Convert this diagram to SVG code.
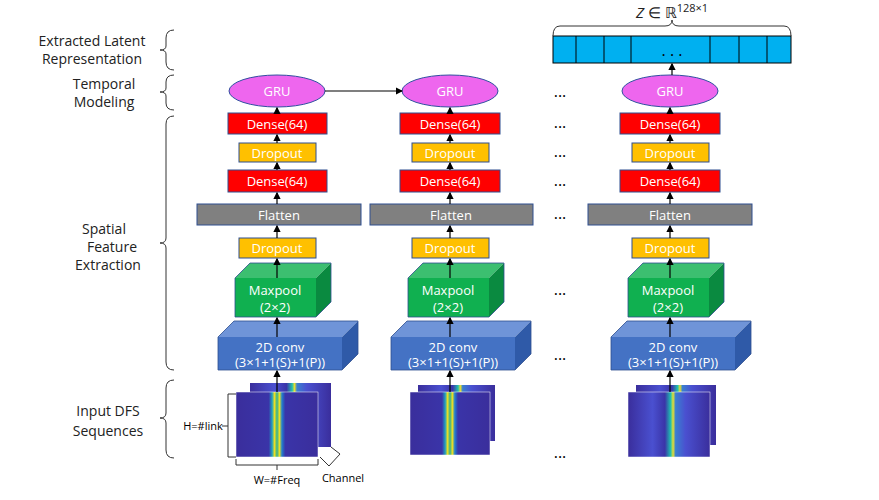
<svg xmlns="http://www.w3.org/2000/svg" width="879" height="500" viewBox="0 0 879 500">
<defs>
<style>
text{font-family:"Open Sans","Liberation Sans",Arial,sans-serif;}
.lbl{font-size:14px;fill:#222;text-anchor:middle}
.w{font-size:13px;fill:#fff;text-anchor:middle}
.dense{fill:#ff0000;stroke:#2f4f8f;stroke-width:1}
.drop{fill:#ffc000;stroke:#2f4f8f;stroke-width:1}
.flat{fill:#808080;stroke:#2f4f8f;stroke-width:1}
.gru{fill:#ee66ee;stroke:#3050a0;stroke-width:1}
.br{fill:none;stroke:#333;stroke-width:1}
.c{stroke:#000;stroke-width:1.2;fill:none;marker-end:url(#ah)}
.dots{font-size:16px;fill:#000;text-anchor:middle}
</style>
<marker id="ah" markerWidth="6" markerHeight="6" refX="5" refY="3" orient="auto"><path d="M0,0 L6,3 L0,6 z" fill="#000"/></marker>
<linearGradient id="hm" x1="0" x2="1" y1="0" y2="0">
<stop offset="0" stop-color="#3a2e9c"/><stop offset="0.4" stop-color="#3a34a8"/><stop offset="0.44" stop-color="#20a0c0"/><stop offset="0.47" stop-color="#f0e020"/><stop offset="0.5" stop-color="#30b090"/><stop offset="0.53" stop-color="#f0e020"/><stop offset="0.56" stop-color="#2080d0"/><stop offset="0.6" stop-color="#3a34a8"/><stop offset="1" stop-color="#3a2e9c"/>
</linearGradient>
<linearGradient id="hm2" x1="0" x2="1" y1="0" y2="0">
<stop offset="0" stop-color="#3a2e9c"/><stop offset="0.3" stop-color="#4a50d0"/><stop offset="0.45" stop-color="#3a34a8"/><stop offset="0.52" stop-color="#20c0b0"/><stop offset="0.55" stop-color="#e8e030"/><stop offset="0.58" stop-color="#3a80d0"/><stop offset="0.7" stop-color="#4a50d0"/><stop offset="1" stop-color="#3a2e9c"/>
</linearGradient>
<g id="stack">
<g id="maxpool"><polygon points="235,278 250,263 331,263 316,278" fill="#3cbf70"/><polygon points="316,278 331,263 331,302 316,317" fill="#0a8a40"/><rect x="235" y="278" width="81" height="39" fill="#10b050"/><polygon points="235,278 250,263 331,263 331,302 316,317 235,317" fill="none" stroke="#2f4f8f" stroke-width="0.8"/><text x="275" y="295" class="w">Maxpool</text><text x="275" y="312" class="w">(2×2)</text></g>
<g id="conv"><polygon points="218,337 234,321 358,321 342,337" fill="#6f94d8"/><polygon points="342,337 358,321 358,354 342,370" fill="#2f5aa8"/><rect x="218" y="337" width="124" height="33" fill="#4472c4"/><polygon points="218,337 234,321 358,321 358,354 342,370 218,370" fill="none" stroke="#2f4f8f" stroke-width="0.8"/><text x="280" y="352" class="w">2D conv</text><text x="280" y="367" class="w">(3×1+1(S)+1(P))</text></g>
</g>
</defs>
<rect width="879" height="500" fill="#fff"/>

<g id="left-labels">
<text x="92" y="46" class="lbl">Extracted Latent</text><text x="92" y="64" class="lbl">Representation</text>
<text x="104" y="89" class="lbl">Temporal</text><text x="104" y="107" class="lbl">Modeling</text>
<text x="104" y="234" class="lbl">Spatial</text><text x="112" y="252" class="lbl">Feature</text><text x="108" y="270" class="lbl">Extraction</text>
<text x="108" y="416" class="lbl">Input DFS</text><text x="108" y="436" class="lbl">Sequences</text>
<path class="br" d="M174,30 Q166,30 166,38 L166,46 Q166,50 160,50 Q166,50 166,54 L166,62 Q166,70 174,70"/>
<path class="br" d="M174,75 Q166,75 166,82 L166,88 Q166,92 160,92 Q166,92 166,96 L166,103 Q166,110 174,110"/>
<path class="br" d="M174,116 Q166,116 166,124 L166,238 Q166,243 160,243 Q166,243 166,248 L166,362 Q166,370 174,370"/>
<path class="br" d="M174,380 Q166,380 166,388 L166,413 Q166,418 160,418 Q166,418 166,423 L166,450 Q166,458 174,458"/>
</g>

<g id="latent">
<rect x="553" y="36" width="238" height="27" fill="#00b0f0" stroke="#000" stroke-width="1"/>
<path d="M576,36V63M604,36V63M631,36V63M710,36V63M739,36V63M767,36V63" stroke="#000" stroke-width="1"/>
<text x="672" y="56" class="dots">. . .</text>
<path class="br" d="M553,36 Q553,26 560,26 L665,26 Q672,26 672,20 Q672,26 679,26 L784,26 Q791,26 791,36"/>
<text x="672" y="18" font-family="DejaVu Serif,serif" font-size="15" text-anchor="middle" fill="#222"><tspan font-style="italic">Z</tspan> ∈ ℝ<tspan font-size="11" dy="-6">128×1</tspan></text>
</g>

<g id="col1">
<ellipse cx="277" cy="91" rx="48" ry="16" class="gru"/><text x="277" y="96" class="w" font-size="14">GRU</text>
<rect x="228" y="113" width="99" height="21" class="dense"/><text x="277" y="129" class="w">Dense(64)</text>
<rect x="239" y="143" width="77" height="19" class="drop"/><text x="277" y="158" class="w">Dropout</text>
<rect x="228" y="170" width="99" height="22" class="dense"/><text x="277" y="186" class="w">Dense(64)</text>
<rect x="197" y="204" width="164" height="21" class="flat"/><text x="279" y="220" class="w">Flatten</text>
<rect x="239" y="238" width="77" height="20" class="drop"/><text x="277" y="253" class="w">Dropout</text>
<use href="#stack"/>
<rect x="250" y="383" width="81" height="64" fill="url(#hm2)"/>
<rect x="236" y="392" width="82" height="65" fill="url(#hm)" stroke="#fff" stroke-width="0.5"/>
<path class="br" d="M236,394 L228,394 L228,426 L222,426 M228,426 L228,457 L236,457"/>
<text x="203" y="430" font-size="11" text-anchor="middle">H=#link</text>
<path class="br" d="M236,459 L236,465 L318,465 L318,459 M277,465 L277,470"/>
<text x="277" y="484" font-size="11" text-anchor="middle">W=#Freq</text>
<path class="br" d="M320,457 L329,466 L340,454 L331,447"/>
<text x="343" y="482" font-size="11" text-anchor="middle">Channel</text>
</g>

<g id="col2">
<ellipse cx="450" cy="91" rx="48" ry="16" class="gru"/><text x="450" y="96" class="w" font-size="14">GRU</text>
<rect x="400" y="113" width="100" height="21" class="dense"/><text x="450" y="129" class="w">Dense(64)</text>
<rect x="412" y="143" width="77" height="19" class="drop"/><text x="450" y="158" class="w">Dropout</text>
<rect x="400" y="170" width="100" height="22" class="dense"/><text x="450" y="186" class="w">Dense(64)</text>
<rect x="370" y="204" width="163" height="21" class="flat"/><text x="451" y="220" class="w">Flatten</text>
<rect x="412" y="238" width="77" height="20" class="drop"/><text x="450" y="253" class="w">Dropout</text>
<use href="#stack" x="173"/>
<rect x="418" y="385" width="77" height="56" fill="url(#hm2)"/>
<rect x="410" y="392" width="80" height="63" fill="url(#hm)" stroke="#fff" stroke-width="0.5"/>
</g>

<g id="col3">
<ellipse cx="670" cy="91" rx="48" ry="16" class="gru"/><text x="670" y="96" class="w" font-size="14">GRU</text>
<rect x="620" y="113" width="100" height="21" class="dense"/><text x="670" y="129" class="w">Dense(64)</text>
<rect x="632" y="143" width="77" height="19" class="drop"/><text x="670" y="158" class="w">Dropout</text>
<rect x="620" y="170" width="100" height="22" class="dense"/><text x="670" y="186" class="w">Dense(64)</text>
<rect x="588" y="204" width="164" height="21" class="flat"/><text x="670" y="220" class="w">Flatten</text>
<rect x="632" y="238" width="77" height="20" class="drop"/><text x="670" y="253" class="w">Dropout</text>
<use href="#stack" x="393"/>
<rect x="636" y="385" width="80" height="60" fill="url(#hm2)"/>
<rect x="628" y="392" width="82" height="65" fill="url(#hm2)" stroke="#fff" stroke-width="0.5"/>
</g>

<g id="dots">
<text x="560" y="97" class="dots">...</text><text x="560" y="128" class="dots">...</text><text x="560" y="157" class="dots">...</text><text x="560" y="186" class="dots">...</text><text x="560" y="219" class="dots">...</text><text x="560" y="295" class="dots">...</text><text x="560" y="360" class="dots">...</text><text x="560" y="458" class="dots">...</text>
</g>

<g id="connectors">
<path class="c" d="M325,91 L402,91"/>
<path class="c" d="M672,75 L672,64"/>
<g id="c1">
<path class="c" d="M277,113 L277,108"/><path class="c" d="M277,143 L277,135"/><path class="c" d="M277,170 L277,163"/><path class="c" d="M277,204 L277,193"/><path class="c" d="M277,238 L277,226"/><path class="c" d="M277,278 L277,259"/><path class="c" d="M277,337 L277,318"/><path class="c" d="M277,392 L277,371"/>
</g>
<use href="#c1" x="173"/>
<use href="#c1" x="393"/>
</g>
</svg>
